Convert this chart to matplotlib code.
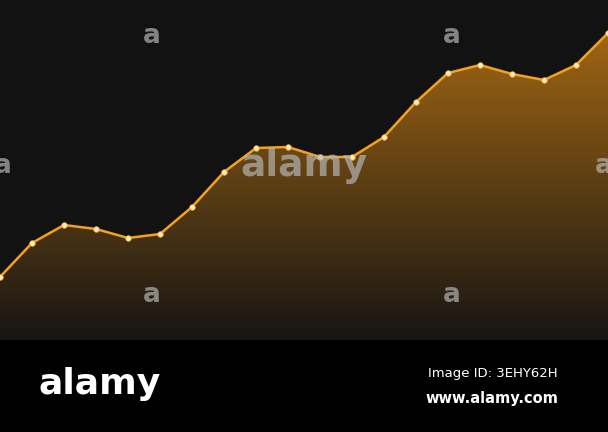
import numpy as np
import matplotlib.pyplot as plt
from matplotlib.colors import LinearSegmentedColormap
from matplotlib.patches import Polygon

# data
points = list(range(20))
values = [63, 97, 115, 111, 102, 106, 133, 168, 192, 193,
          183, 183, 203, 238, 267, 275, 266, 260, 275, 307]

fig = plt.figure(figsize=(6.08, 4.32), dpi=100)
fig.patch.set_facecolor("#000000")

ax = fig.add_axes([0, 92 / 432, 1, 340 / 432])
ax.set_facecolor("#121212")
ax.set_xlim(0, 19)
ax.set_ylim(0, 340)
ax.set_xticks([])
ax.set_yticks([])
for s in ax.spines.values():
    s.set_visible(False)

# gradient fill under the line
cmap = LinearSegmentedColormap.from_list("amber", ["#171513", "#a56914"])
grad = np.linspace(0, 1, 256).reshape(-1, 1)
img = ax.imshow(grad, extent=[0, 19, 0, 320], origin="lower", aspect="auto",
                cmap=cmap, zorder=1)
verts = [(0, 0)] + list(zip(points, values)) + [(19, 0)]
poly = Polygon(verts, closed=True, facecolor="none", edgecolor="none")
ax.add_patch(poly)
img.set_clip_path(poly)

ax.plot(points, values, color="#f4a11e", lw=1.8, zorder=3, clip_on=False)
ax.plot(points, values, "o", ms=4, mfc="#fff1cf", mec="#f4a11e", mew=0.6,
        zorder=4, clip_on=False)

# watermark marks
wm = dict(color="#b4b4b4", alpha=0.7, fontweight="bold", ha="center", va="center",
          family="DejaVu Sans")
for (px, py) in [(152, 36), (452, 36), (3, 166), (604, 166), (152, 295), (452, 295)]:
    fig.text(px / 608, 1 - py / 432, "a", fontsize=19, **wm)
fig.text(304 / 608, 1 - 166 / 432, "alamy", fontsize=27, **wm)

# bottom band
fig.text(100 / 608, 1 - 384 / 432, "alamy", color="white", fontsize=26,
         fontweight="bold", ha="center", va="center", family="DejaVu Sans")
fig.text(558 / 608, 1 - 374 / 432, "Image ID: 3EHY62H", color="white", fontsize=9.5,
         ha="right", va="center", family="DejaVu Sans")
fig.text(558 / 608, 1 - 398 / 432, "www.alamy.com", color="white", fontsize=10.5,
         fontweight="bold", ha="right", va="center", family="DejaVu Sans")

fig.savefig("out.png", dpi=100, facecolor=fig.get_facecolor())
